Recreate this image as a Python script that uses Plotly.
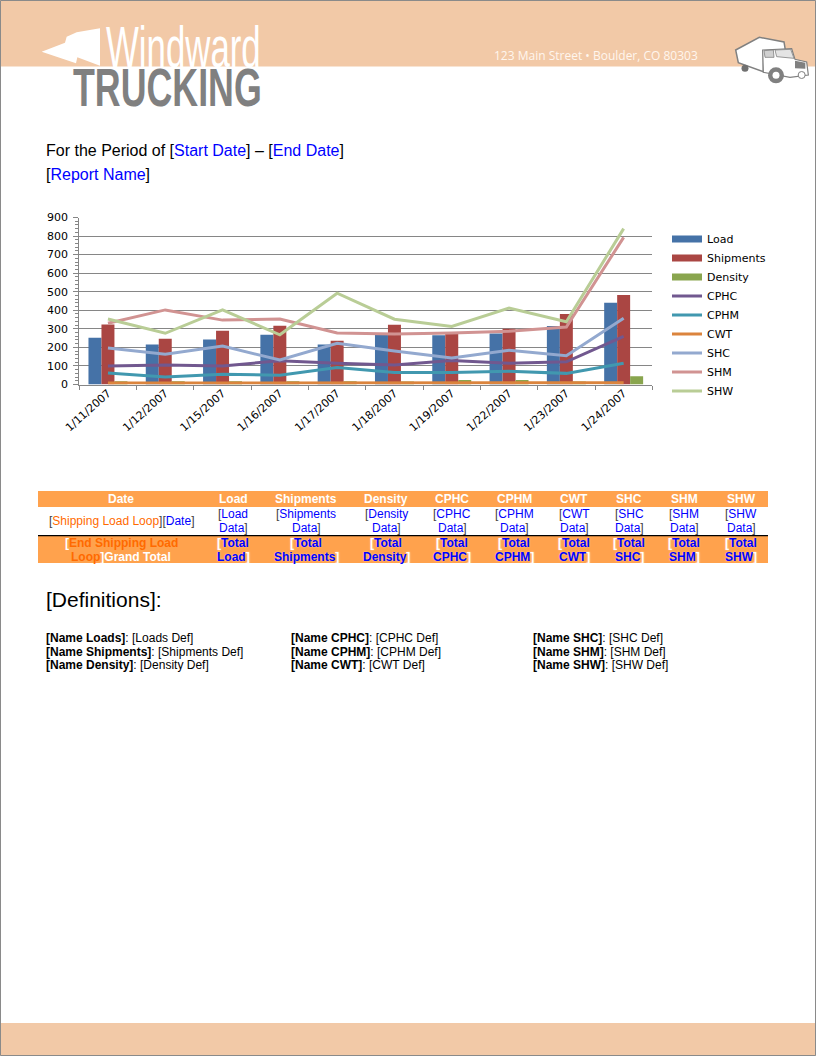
import plotly.graph_objects as go

W, H = 816, 1056

dates = ["1/11/2007", "1/12/2007", "1/15/2007", "1/16/2007", "1/17/2007",
         "1/18/2007", "1/19/2007", "1/22/2007", "1/23/2007", "1/24/2007"]
load = [252, 215, 242, 268, 215, 268, 265, 275, 315, 440]
shipments = [323, 247, 290, 317, 236, 322, 275, 300, 380, 482]
density = [18, 18, 18, 18, 18, 16, 24, 24, 16, 45]
cphc = [100, 105, 100, 128, 115, 105, 130, 115, 122, 260]
cphm = [62, 40, 55, 50, 92, 65, 65, 72, 60, 115]
cwt = [8, 8, 8, 8, 8, 8, 8, 8, 8, 10]
shc = [197, 163, 207, 132, 222, 180, 143, 185, 155, 357]
shm = [330, 402, 347, 353, 278, 272, 277, 287, 310, 793]
shw = [353, 276, 402, 268, 492, 352, 313, 412, 338, 840]

bar_series = [("Load", load, "#4572A7"), ("Shipments", shipments, "#AA4643"),
              ("Density", density, "#89A54E")]
line_series = [("CPHC", cphc, "#71588F"), ("CPHM", cphm, "#4198AF"),
               ("CWT", cwt, "#DB843D"), ("SHC", shc, "#93A9CF"),
               ("SHM", shm, "#D19392"), ("SHW", shw, "#B9CD96")]

table_cols = ["Date", "Load", "Shipments", "Density", "CPHC", "CPHM", "CWT", "SHC", "SHM", "SHW"]
table_x = [121, 233, 306, 386, 452, 514, 574, 629, 684, 741]

PEACH = "#F2C9A7"
ORANGE = "#FFA24D"
BLUE = "#0000FF"
HOT = "#FF6A00"
DARK = "#404040"
ARIAL = "Liberation Sans"
HALO = "0 0 2px rgba(255,255,255,0.55)"

fig = go.Figure()
for name, vals, col in bar_series:
    fig.add_trace(go.Bar(x=dates, y=vals, name=name, marker=dict(color=col, line_width=0), showlegend=False))
for name, vals, col in bar_series:
    fig.add_trace(go.Scatter(x=[dates[0]], y=[None], name=name, mode="lines", line=dict(color=col, width=7)))
for name, vals, col in line_series:
    fig.add_trace(go.Scatter(x=dates, y=vals, name=name, mode="lines", line=dict(color=col, width=3), cliponaxis=False))

ann = []


def txt(x, y, text, size, color="#000000", anchor="left", family=ARIAL, shadow=None):
    f = dict(size=size, color=color, family=family)
    if shadow:
        f["shadow"] = shadow
    ann.append(dict(xref="paper", yref="paper", x=(x - (1 if anchor == "left" else 0)) / W, y=1 - y / H, text=text,
                    showarrow=False, xanchor=anchor, yanchor="middle", borderpad=0, font=f))


def c(s, col):
    return f'<span style="color:{col}">{s}</span>'


def poly(pts, fill, line=None, lw=1):
    d = "M" + " L".join(f"{px / W},{1 - py / H}" for px, py in pts) + " Z"
    return dict(type="path", xref="paper", yref="paper", path=d, fillcolor=fill,
                line=dict(color=line or fill, width=lw if line else 0), layer="above")


def rect(x0, y0, x1, y1, fill, layer="below"):
    return dict(type="rect", xref="paper", yref="paper", x0=x0 / W, x1=x1 / W, y0=1 - y0 / H, y1=1 - y1 / H,
                fillcolor=fill, line_width=0, layer=layer)


def circ(cx, cy, r, fill, line=None):
    return dict(type="circle", xref="paper", yref="paper", x0=(cx - r) / W, x1=(cx + r) / W,
                y0=1 - (cy + r) / H, y1=1 - (cy - r) / H, fillcolor=fill,
                line=dict(color=line or fill, width=1 if line else 0), layer="above")


def z7(pts):
    return [(a / 3, b / 3) for a, b in pts]


def z8(pts):
    return [(480 + a / 3, 20 + b / 3) for a, b in pts]


shapes = [
    rect(0, 0, W, 66.5, PEACH),
    rect(0, 1023, W, H, PEACH),
    rect(38, 491, 768, 507, ORANGE),
    rect(38, 536, 768, 563, ORANGE),
    rect(38, 535, 768, 536.3, "#000000"),
    poly(z7([(125, 155), (195, 128), (200, 110), (230, 97), (300, 85), (300, 197), (232, 172), (228, 190)]), "#FFFFFF"),
    poly(z8([(767, 90), (838, 52), (912, 66), (916, 90), (850, 92), (850, 155), (775, 128)]), "#FFFFFF", "#808080", 1.5),
    poly(z8([(848, 90), (935, 86), (945, 118), (980, 126), (985, 165), (930, 172), (850, 157)]), "#FFFFFF", "#808080", 1.2),
    poly(z8([(852, 92), (880, 90), (882, 112), (855, 112)]), "#D0D0D0", "#808080", 0.8),
    poly(z8([(885, 90), (932, 88), (942, 115), (890, 110)]), "#E4E4E4", "#808080", 0.8),
    poly(z8([(945, 122), (976, 128), (976, 146), (945, 145)]), "#808080"),
    circ(480 + 888 / 3, 20 + 166 / 3, 8, "#808080"),
    circ(480 + 888 / 3, 20 + 166 / 3, 3.5, "#FFFFFF"),
    circ(480 + 795 / 3, 20 + 145 / 3, 3.5, "#707070"),
    circ(480 + 965 / 3, 20 + 165 / 3, 3.5, "#FFFFFF", "#808080"),
    dict(type="rect", xref="paper", yref="paper", x0=0.5 / W, x1=(W - 0.5) / W, y0=0.5 / H, y1=1 - 0.5 / H,
         line=dict(color="#8A8A8A", width=1), fillcolor="rgba(0,0,0,0)", layer="above"),
]

txt(106, 46, "Windward", 58, "#FFFFFF")
txt(73, 87, "<b>TRUCKING</b>", 53, "#808080")
txt(494, 55.5, "123 Main Street • Boulder, CO 80303", 12, "#FFF6EE", family="Open Sans")

txt(46, 150, f"For the Period of [{c('Start Date', BLUE)}] – [{c('End Date', BLUE)}]", 16)
txt(46, 174, f"[{c('Report Name', BLUE)}]", 16)

for cx, name in zip(table_x, table_cols):
    txt(cx, 499, f"<b>{name}</b>", 12, "#FFFFFF", "center")

txt(table_x[0], 521, f"[{c('Shipping Load Loop', HOT)}][{c('Date', BLUE)}]", 12, DARK, "center")
txt(table_x[0], 543, "<b>[" + c("End Shipping Load", HOT) + "</b>", 12, "#FFFFFF", "center")
txt(table_x[0], 557, "<b>" + c("Loop", HOT) + "]Grand Total</b>", 12, "#FFFFFF", "center")

for cx, name in zip(table_x[1:], table_cols[1:]):
    txt(cx, 514, f"[{c(name, BLUE)}", 12, DARK, "center")
    txt(cx, 528, f"{c('Data', BLUE)}]", 12, DARK, "center")
    txt(cx, 543, f"<b>[{c('Total', BLUE)}</b>", 12, "#FFFFFF", "center", shadow=HALO)
    txt(cx, 557, f"<b>{c(name, BLUE)}]</b>", 12, "#FFFFFF", "center", shadow=HALO)

txt(46, 599.5, "[Definitions]:", 21)

defs = [(46, 638, "Name Loads", "Loads Def"), (46, 652, "Name Shipments", "Shipments Def"),
        (46, 665, "Name Density", "Density Def"),
        (291, 638, "Name CPHC", "CPHC Def"), (291, 652, "Name CPHM", "CPHM Def"), (291, 665, "Name CWT", "CWT Def"),
        (533, 638, "Name SHC", "SHC Def"), (533, 652, "Name SHM", "SHM Def"), (533, 665, "Name SHW", "SHW Def")]
for dx, dy, n, d in defs:
    txt(dx, dy, f"<b>[{n}]</b>: [{d}]", 12)

AXC = "#868686"
fig.update_layout(
    width=W, height=H, autosize=False, margin=dict(l=0, r=0, t=0, b=0, autoexpand=False),
    paper_bgcolor="#FFFFFF", plot_bgcolor="#FFFFFF",
    barmode="group", bargap=0.32, bargroupgap=0,
    font=dict(family="DejaVu Sans", size=11, color="#000000"),
    shapes=shapes, annotations=ann,
    xaxis=dict(domain=[79.3 / W, 652.3 / W], type="category", categoryorder="array", categoryarray=dates,
               tickson="boundaries", ticks="outside", ticklen=4, tickcolor=AXC, showgrid=False,
               tickangle=-42, ticklabelstandoff=-3, showline=True, linecolor=AXC, linewidth=1, anchor="y",
               automargin=False, tickfont=dict(size=11, family="DejaVu Sans")),
    yaxis=dict(domain=[1 - 384.5 / H, 1 - 217.5 / H], range=[0, 900], dtick=100, ticks="outside", ticklen=5,
               ticklabelstandoff=3,
               tickcolor=AXC, showgrid=True, gridcolor=AXC, gridwidth=1, showline=True, linecolor=AXC,
               linewidth=1, zeroline=False, automargin=False, tickfont=dict(size=11, family="DejaVu Sans"),
               minor=dict(dtick=20, ticks="outside", ticklen=3, tickcolor=AXC, showgrid=False)),
    legend=dict(x=667 / W, xanchor="left", y=1 - 224.5 / H, yanchor="top", traceorder="normal",
                itemwidth=30, bgcolor="rgba(0,0,0,0)", font=dict(size=11, family="DejaVu Sans")),
)

post = """
document.body.style.margin='0';
document.querySelectorAll('.annotation-text').forEach(function(t){
  var s=t.textContent, sx=null;
  if(s==='Windward'){sx=0.6;}
  if(s==='TRUCKING'){sx=0.675;}
  if(sx){var b=t.getBBox();
    t.setAttribute('transform','translate('+b.x+' 0) scale('+sx+' 1) translate('+(-b.x)+' 0)');}
});
"""
fig.write_html("out.html", post_script=post, config=dict(displayModeBar=False))
